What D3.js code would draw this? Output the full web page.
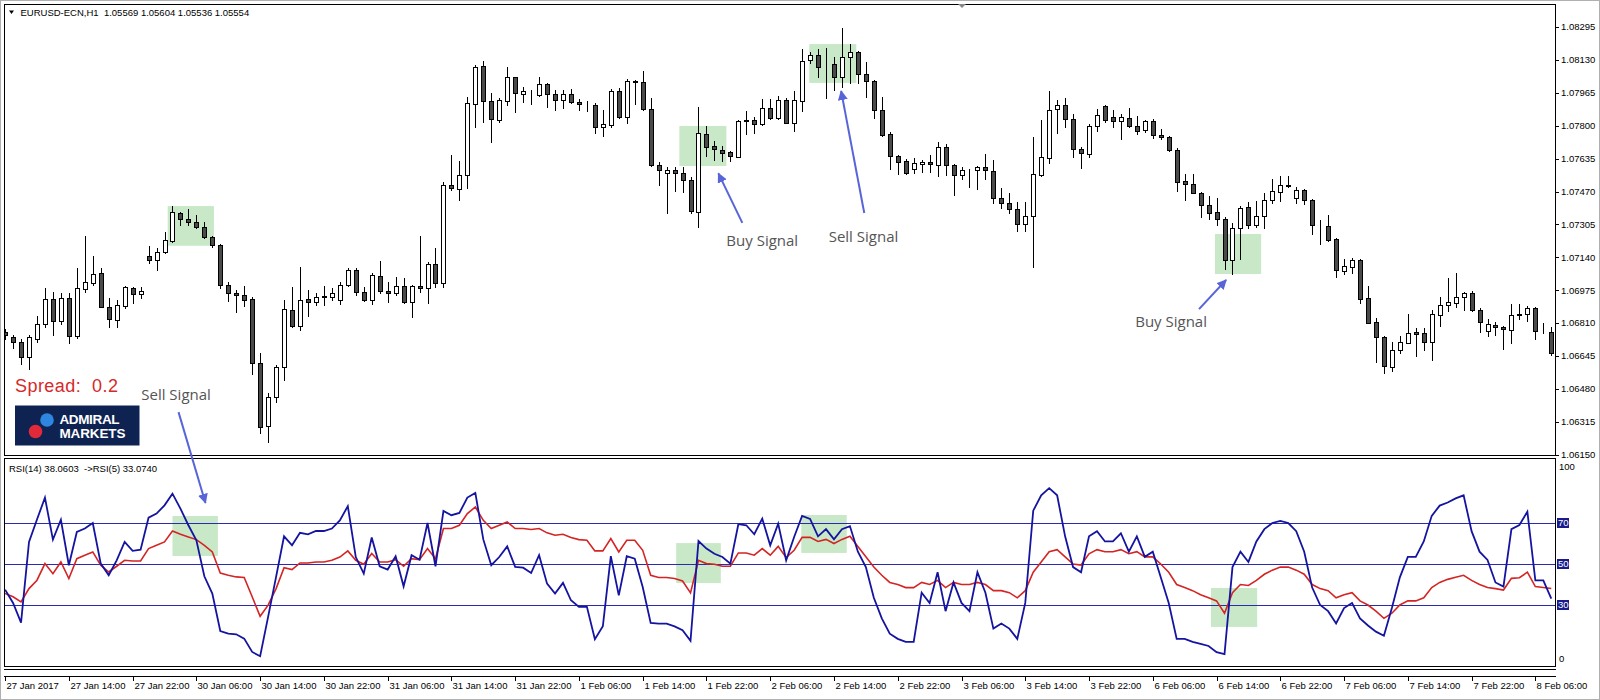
<!DOCTYPE html>
<html><head><meta charset="utf-8">
<script src="https://cdn.jsdelivr.net/npm/d3@7"></script>
<style>body{margin:0;background:#fff;} svg{display:block;}</style>
</head><body><svg id="c" width="1600" height="700"></svg>
<script>
// ---------- DATA ----------
const opens = [
1.06765,1.06741,1.06713,1.06641,1.06728,1.06805,1.06929,1.06822,1.06934,1.06745,
1.06979,1.07012,1.07063,1.06892,1.06825,1.06895,1.06984,1.06955,1.07146,1.07126,
1.07168,1.07223,1.07360,1.07332,1.07319,1.07293,1.07240,1.07201,1.07001,1.06962,
1.06950,1.06929,1.06611,1.06293,1.06440,1.06591,1.06875,1.06795,1.06929,1.06917,
1.06942,1.06942,1.06925,1.07001,1.07076,1.06967,1.06925,1.07046,1.06971,1.06959,
1.06996,1.06917,1.06996,1.06984,1.07106,1.07009,1.07503,1.07481,1.07553,1.07909,
1.08100,1.07926,1.07829,1.07926,1.08043,1.07959,1.07959,1.07954,1.08010,1.07959,
1.07929,1.07959,1.07921,1.07909,1.07904,1.07792,1.07804,1.07976,1.07842,1.08026,
1.08018,1.07882,1.07603,1.07561,1.07578,1.07565,1.07528,1.07369,1.07759,1.07698,
1.07678,1.07668,1.07645,1.07829,1.07829,1.07809,1.07887,1.07837,1.07929,1.07816,
1.07926,1.08130,1.08155,1.08105,1.08110,1.08043,1.08143,1.08172,1.08060,1.08026,
1.07879,1.07759,1.07648,1.07625,1.07581,1.07608,1.07620,1.07603,1.07695,1.07603,
1.07553,1.07578,1.07578,1.07591,1.07575,1.07436,1.07414,1.07381,1.07307,1.07347,
1.07553,1.07637,1.07882,1.07904,1.07832,1.07682,1.07658,1.07799,1.07899,1.07846,
1.07826,1.07837,1.07799,1.07779,1.07826,1.07754,1.07745,1.07678,1.07524,1.07508,
1.07464,1.07402,1.07369,1.07330,1.07126,1.07285,1.07390,1.07302,1.07347,1.07427,
1.07469,1.07503,1.07436,1.07477,1.07427,1.07302,1.07297,1.07230,1.07073,1.07093,
1.07126,1.06934,1.06817,1.06741,1.06591,1.06674,1.06711,1.06766,1.06758,1.06716,
1.06850,1.06900,1.06912,1.06942,1.06962,1.06878,1.06771,1.06800,1.06788,1.06775,
1.06850,1.06858,1.06888,1.06766,1.06765];
const highs = [
1.06778,1.06750,1.06728,1.06750,1.06845,1.06984,1.06967,1.06962,1.06959,1.07084,
1.07247,1.07146,1.07084,1.06934,1.06925,1.06996,1.06989,1.06989,1.07196,1.07185,
1.07268,1.07397,1.07369,1.07380,1.07352,1.07319,1.07247,1.07206,1.07017,1.06976,
1.06996,1.06939,1.06658,1.06457,1.06599,1.06925,1.06989,1.07093,1.06976,1.06959,
1.06996,1.06984,1.07017,1.07084,1.07084,1.06992,1.07059,1.07123,1.07017,1.07042,
1.07034,1.07001,1.07247,1.07118,1.07185,1.07519,1.07653,1.07625,1.07946,1.08105,
1.08127,1.07966,1.07938,1.08097,1.08046,1.07996,1.07979,1.08043,1.08013,1.07979,
1.07979,1.07983,1.07933,1.07926,1.07916,1.07879,1.07983,1.07988,1.08033,1.08030,
1.08077,1.07938,1.07620,1.07591,1.07595,1.07595,1.07541,1.07896,1.07799,1.07725,
1.07698,1.07675,1.07829,1.07876,1.07842,1.07933,1.07933,1.07949,1.07938,1.07976,
1.08184,1.08172,1.08184,1.08189,1.08147,1.08289,1.08210,1.08177,1.08122,1.08030,
1.07943,1.07770,1.07653,1.07632,1.07637,1.07628,1.07653,1.07720,1.07708,1.07608,
1.07595,1.07581,1.07598,1.07658,1.07628,1.07486,1.07461,1.07419,1.07419,1.07745,
1.07829,1.07976,1.07929,1.07938,1.07859,1.07692,1.07809,1.07882,1.07904,1.07879,
1.07859,1.07888,1.07849,1.07829,1.07832,1.07782,1.07749,1.07687,1.07558,1.07558,
1.07469,1.07447,1.07436,1.07340,1.07313,1.07397,1.07419,1.07424,1.07461,1.07531,
1.07548,1.07548,1.07491,1.07481,1.07431,1.07327,1.07352,1.07235,1.07129,1.07134,
1.07129,1.06996,1.06833,1.06745,1.06716,1.06745,1.06855,1.06783,1.06783,1.06878,
1.06939,1.07034,1.07062,1.06967,1.06972,1.06884,1.06828,1.06817,1.06795,1.06905,
1.06905,1.06895,1.06892,1.06812,1.06790];
const lows = [
1.06728,1.06683,1.06607,1.06582,1.06716,1.06792,1.06750,1.06805,1.06708,1.06733,
1.06967,1.07001,1.06889,1.06792,1.06788,1.06884,1.06912,1.06934,1.07113,1.07076,
1.07163,1.07218,1.07302,1.07302,1.07285,1.07235,1.07193,1.06984,1.06922,1.06867,
1.06895,1.06554,1.06256,1.06213,1.06415,1.06524,1.06792,1.06775,1.06845,1.06900,
1.06900,1.06925,1.06905,1.06996,1.06950,1.06922,1.06905,1.06959,1.06917,1.06950,
1.06909,1.06839,1.06967,1.06909,1.06992,1.06992,1.07478,1.07427,1.07486,1.07792,
1.07820,1.07720,1.07820,1.07904,1.07871,1.07921,1.07909,1.07949,1.07893,1.07879,
1.07887,1.07913,1.07879,1.07876,1.07765,1.07749,1.07792,1.07839,1.07812,1.07909,
1.07879,1.07598,1.07503,1.07360,1.07474,1.07469,1.07360,1.07290,1.07648,1.07628,
1.07625,1.07625,1.07642,1.07759,1.07762,1.07804,1.07832,1.07832,1.07812,1.07775,
1.07876,1.08113,1.08046,1.07938,1.07980,1.07996,1.08013,1.08013,1.07943,1.07837,
1.07749,1.07581,1.07558,1.07558,1.07565,1.07570,1.07570,1.07548,1.07553,1.07453,
1.07531,1.07491,1.07481,1.07531,1.07414,1.07386,1.07361,1.07274,1.07274,1.07093,
1.07548,1.07615,1.07765,1.07792,1.07642,1.07586,1.07645,1.07775,1.07821,1.07795,
1.07732,1.07792,1.07759,1.07770,1.07737,1.07732,1.07675,1.07474,1.07427,1.07461,
1.07340,1.07330,1.07302,1.07079,1.07056,1.07129,1.07285,1.07290,1.07285,1.07414,
1.07424,1.07494,1.07411,1.07407,1.07257,1.07206,1.07223,1.07042,1.07056,1.07062,
1.06909,1.06808,1.06616,1.06557,1.06571,1.06661,1.06708,1.06644,1.06674,1.06624,
1.06795,1.06872,1.06892,1.06878,1.06872,1.06766,1.06745,1.06750,1.06678,1.06708,
1.06828,1.06822,1.06728,1.06758,1.06650];
const closes = [
1.06748,1.06716,1.06641,1.06738,1.06805,1.06929,1.06822,1.06934,1.06745,1.06984,
1.07017,1.07056,1.06892,1.06828,1.06900,1.06989,1.06955,1.06971,1.07126,1.07168,
1.07227,1.07369,1.07330,1.07315,1.07290,1.07243,1.07201,1.07001,1.06962,1.06952,
1.06925,1.06611,1.06290,1.06440,1.06591,1.06879,1.06795,1.06925,1.06917,1.06942,
1.06944,1.06962,1.07001,1.07076,1.06967,1.06925,1.07051,1.06972,1.06962,1.06996,
1.06917,1.06996,1.06987,1.07106,1.07009,1.07503,1.07486,1.07553,1.07913,1.08097,
1.07926,1.07832,1.07929,1.08043,1.07963,1.07974,1.07961,1.08010,1.07959,1.07929,
1.07959,1.07918,1.07909,1.07907,1.07792,1.07809,1.07976,1.07842,1.08026,1.08018,
1.07882,1.07603,1.07578,1.07578,1.07561,1.07528,1.07374,1.07762,1.07695,1.07682,
1.07665,1.07648,1.07826,1.07822,1.07809,1.07887,1.07837,1.07929,1.07816,1.07929,
1.08127,1.08155,1.08097,1.08103,1.08043,1.08143,1.08172,1.08060,1.08026,1.07879,
1.07754,1.07648,1.07620,1.07565,1.07615,1.07620,1.07608,1.07695,1.07603,1.07553,
1.07578,1.07576,1.07591,1.07578,1.07436,1.07411,1.07381,1.07307,1.07347,1.07558,
1.07645,1.07879,1.07904,1.07832,1.07682,1.07662,1.07799,1.07854,1.07829,1.07826,
1.07846,1.07799,1.07775,1.07826,1.07754,1.07742,1.07678,1.07519,1.07508,1.07464,
1.07402,1.07364,1.07330,1.07126,1.07285,1.07385,1.07302,1.07347,1.07427,1.07474,
1.07503,1.07498,1.07477,1.07427,1.07302,1.07300,1.07227,1.07076,1.07096,1.07126,
1.06929,1.06812,1.06741,1.06594,1.06674,1.06716,1.06761,1.06755,1.06716,1.06855,
1.06900,1.06917,1.06942,1.06962,1.06878,1.06817,1.06805,1.06788,1.06778,1.06850,
1.06858,1.06888,1.06771,1.06765,1.06658];
// RSI(5) - blue
const rsi5 = [
37.5,31,21.4,60.8,71.7,82.4,61.9,71.6,49.4,65.6,
67.3,70,50.2,44.5,51.8,60.8,56.4,57,72.6,74.6,
78.6,84.3,77,68.9,61.6,44,35.6,17.3,16,15.7,
13.6,7.1,5,24.2,43.7,63.5,59.1,65.2,64.5,66.1,
66.1,67.3,71.3,78.2,53.4,45.3,62.9,48.9,47.3,53.8,
39.1,54.3,52.1,70,48.9,75.9,73.8,74.9,82.4,84.7,
62,49.4,53.4,58.6,48.6,48.2,45.6,54.3,40.4,35.6,
40.8,32.3,29.1,29.1,13.3,19.6,53.8,34.7,53.8,52.6,
38.8,21.3,20.9,20.9,19.6,17.7,12.5,61.2,57.5,55,
53.4,50.2,69.4,68.9,64.5,72.1,59.1,69.7,51.8,63.2,
73.5,72,63.5,67,62,67,68.5,56,48.5,33.5,
23.5,16,13.5,12,12,36,31,46,27,41,
31,27,46,36,18.5,21,18.5,13.5,31,76,
83.5,87,83.5,63.5,48.5,46,63.5,66,61,61,
65,56,63.5,53.5,56,43.5,31,13.5,13.5,12,
11,10,7,6,48.5,56,51,61,67,70,
71,70,66,56,38.5,30,27,21,28.5,31,
23.5,20,17,15,28.5,43.5,53.5,53.5,61,73.5,
78.5,80,82,83.5,66,56,52,41,39,67,
69,75.5,42,42,33.07];
// RSI(14) - red
const rsi14 = [
35.6,34,31.5,38,42.1,50.2,45.3,51,42.9,52.6,
54.3,55.9,49.4,46.1,48.9,51.8,51.5,51.5,57.5,59.1,
60.8,66.1,64.5,63.2,61.9,59.1,55.9,45.6,44.5,43.7,
43.4,34,24.5,29.9,38,48.2,47.3,50.5,50.5,51,
51,51.8,53.4,56.4,51.8,49.9,55.1,51,51,52.1,
48.9,52.6,52.1,57.5,52.6,67.3,67.3,68.9,74.6,77.8,
71.3,67.3,68.9,70.5,67.3,67.3,66.8,67.3,65.2,64,
64.5,62.9,61.9,61.6,56.4,56.4,62.4,55.9,61.6,61.6,
56.7,44.5,43.4,43.4,42.9,41.7,35.9,51.8,50.2,49.9,
48.9,48.9,55.4,55.4,54.3,57.5,54.3,58.6,53.1,56.7,
63,63,61,62,60,62,63.5,58.5,53.5,48.5,
44.5,41,40,38.5,38.5,41,40,42,38.5,41,
40,40,41,40,37,37,36,33.5,37,46,
51,56,57,53.5,50,49.5,55,57,56,56,
57,55,56,53.5,53.5,50,46,40,38.5,37,
35,33.5,32,26,36,40,39.5,42,45,47,
48.5,48.5,47,45,40,38,37,33.5,35,36,
32,30,27,23.5,26,30,32,32,33.5,38.5,
41,42.5,43.5,44.5,42,40,38.5,38,37.3,43,
43.3,46,39,38.5,38.06];
const priceTicks = [1.08295,1.08130,1.07965,1.07800,1.07635,1.07470,1.07305,1.07140,1.06975,1.06810,1.06645,1.06480,1.06315,1.06150];
const rsiLevels = [70,50,30];
const timeLabels = ["27 Jan 2017","27 Jan 14:00","27 Jan 22:00","30 Jan 06:00","30 Jan 14:00","30 Jan 22:00","31 Jan 06:00","31 Jan 14:00","31 Jan 22:00","1 Feb 06:00","1 Feb 14:00","1 Feb 22:00","2 Feb 06:00","2 Feb 14:00","2 Feb 22:00","3 Feb 06:00","3 Feb 14:00","3 Feb 22:00","6 Feb 06:00","6 Feb 14:00","6 Feb 22:00","7 Feb 06:00","7 Feb 14:00","7 Feb 22:00","8 Feb 06:00"];
const labelEvery = 8;
// highlight boxes: [fromIndex, toIndex, top, bottom]
const priceBoxes = [[20.4,26.2,1.07397,1.07198],[84.6,90.5,1.07799,1.07598],[100.9,106.8,1.08210,1.08015],[151.8,157.6,1.07257,1.07056]];
const rsiBoxes = [[21.0,26.7,73.4,53.9],[84.2,89.8,60.2,40.7],[99.9,105.6,73.9,55.4],[151.3,157.1,38.3,19.3]];
// signal annotations: text anchor (index, price), arrow from -> to
const signals = [
 {text:"Buy Signal", ti:95.0, tp:1.07223, a:[92.5,1.07313], b:[89.5,1.07561]},
 {text:"Sell Signal", ti:107.7, tp:1.07244, a:[107.8,1.07362], b:[104.9,1.07974]},
 {text:"Buy Signal", ti:146.3, tp:1.06815, a:[149.8,1.06880], b:[153.2,1.07026]}
];
const crossSignal = {text:"Sell Signal", ti:21.45, tp:1.06450, a:[21.76,1.06363], b:[25.14,79.8]};

// ---------- CHART ----------
const svg = d3.select('#c');
const N = opens.length;
const x = d3.scaleLinear().domain([0, N-1]).range([5.1, 5.1 + 7.97*(N-1)]);
const yP = d3.scaleLinear().domain([1.06148, 1.08411]).range([455, 4]);
const yR = d3.scaleLinear().domain([0, 100]).range([666.5, 461.5]);
const FONT = "'Liberation Sans', Arial, sans-serif";

svg.append('rect').attr('width',1600).attr('height',700).attr('fill','#ffffff');
svg.append('rect').attr('x',0.5).attr('y',0.5).attr('width',1599).attr('height',699).attr('fill','none').attr('stroke','#b0b0b0');

const defs = svg.append('defs');
defs.append('clipPath').attr('id','clipMain').append('rect').attr('x',5).attr('y',5).attr('width',1550).attr('height',450);
defs.append('clipPath').attr('id','clipRsi').append('rect').attr('x',5).attr('y',459).attr('width',1550).attr('height',207);
defs.append('marker').attr('id','ah').attr('viewBox','0 0 10 10').attr('refX',9).attr('refY',5)
  .attr('markerWidth',5).attr('markerHeight',5).attr('orient','auto')
  .append('path').attr('d','M0,0L10,5L0,10z').attr('fill','#5865d8');

// main panel
const gMain = svg.append('g').attr('clip-path','url(#clipMain)');
gMain.selectAll('rect.box').data(priceBoxes).join('rect').attr('class','box')
  .attr('x',d=>x(d[0])).attr('width',d=>x(d[1])-x(d[0]))
  .attr('y',d=>yP(d[2])).attr('height',d=>yP(d[3])-yP(d[2]))
  .attr('fill','#c9e8c7');

const idx = d3.range(N);
const cg = gMain.append('g');
cg.selectAll('line.wick').data(idx).join('line').attr('class','wick')
  .attr('x1',i=>Math.round(x(i))+0.5).attr('x2',i=>Math.round(x(i))+0.5)
  .attr('y1',i=>Math.round(yP(highs[i]))).attr('y2',i=>Math.round(yP(lows[i]))+1)
  .attr('stroke','#000').attr('stroke-width',1);
cg.selectAll('rect.body').data(idx).join('rect').attr('class','body')
  .attr('x',i=>Math.round(x(i))-1.5).attr('width',4)
  .attr('y',i=>Math.round(yP(Math.max(opens[i],closes[i])))+0.5)
  .attr('height',i=>Math.max(0, Math.round(yP(Math.min(opens[i],closes[i]))) - Math.round(yP(Math.max(opens[i],closes[i])))))
  .attr('fill',i=>closes[i]>=opens[i]?'#ffffff':'#4a4a4a')
  .attr('stroke','#000').attr('stroke-width',1);

// main frame
svg.append('rect').attr('x',4.5).attr('y',4.5).attr('width',1551).attr('height',451).attr('fill','none').attr('stroke','#000');

// price axis
const pa = svg.append('g');
priceTicks.forEach(p=>{
  pa.append('line').attr('x1',1556).attr('x2',1559).attr('y1',Math.round(yP(p))+0.5).attr('y2',Math.round(yP(p))+0.5).attr('stroke','#000');
  pa.append('text').attr('x',1561).attr('y',yP(p)).attr('dy','0.35em').attr('font-family',FONT).attr('font-size','9.5px').attr('fill','#000').text(p.toFixed(5));
});

// header
svg.append('path').attr('d','M9,10.5L14,10.5L11.5,14z').attr('fill','#000');
svg.append('text').attr('x',20.5).attr('y',13).attr('dy','0.35em').attr('font-family',FONT).attr('font-size','9.5px').attr('fill','#000')
  .attr('xml:space','preserve').text('EURUSD-ECN,H1  1.05569 1.05604 1.05536 1.05554');
svg.append('path').attr('d','M958,4L966,4L962,8z').attr('fill','#888');

// spread + logo
svg.append('text').attr('x',15).attr('y',392).attr('font-family',FONT).attr('font-size','18px').attr('fill','#d42a2a')
  .attr('xml:space','preserve').attr('textLength',103).text('Spread:  0.2');
svg.append('rect').attr('x',15).attr('y',405.5).attr('width',124.5).attr('height',40).attr('fill','#0e2352');
svg.append('circle').attr('cx',47).attr('cy',420).attr('r',6.8).attr('fill','#2f86e0');
svg.append('circle').attr('cx',35.5).attr('cy',431.5).attr('r',6.8).attr('fill','#e2293a');
svg.append('text').attr('x',59.5).attr('y',424).attr('font-family',FONT).attr('font-weight','bold').attr('font-size','13.5px').attr('fill','#fff').attr('textLength',60).text('ADMIRAL');
svg.append('text').attr('x',59.5).attr('y',438).attr('font-family',FONT).attr('font-weight','bold').attr('font-size','13.5px').attr('fill','#fff').attr('textLength',66).text('MARKETS');

// RSI panel
const gR = svg.append('g').attr('clip-path','url(#clipRsi)');
gR.selectAll('rect.box').data(rsiBoxes).join('rect').attr('class','box')
  .attr('x',d=>x(d[0])).attr('width',d=>x(d[1])-x(d[0]))
  .attr('y',d=>yR(d[2])).attr('height',d=>yR(d[3])-yR(d[2]))
  .attr('fill','#c9e8c7');
gR.selectAll('line.lvl').data(rsiLevels).join('line').attr('class','lvl')
  .attr('x1',5).attr('x2',1555).attr('y1',d=>Math.round(yR(d))+0.5).attr('y2',d=>Math.round(yR(d))+0.5)
  .attr('stroke','#2b2bb0').attr('stroke-width',1);
const line = d3.line().x((d,i)=>x(i)).y(d=>yR(d));
gR.append('path').datum(rsi14).attr('d',line).attr('fill','none').attr('stroke','#d42424').attr('stroke-width',1.6);
gR.append('path').datum(rsi5).attr('d',line).attr('fill','none').attr('stroke','#1414a0').attr('stroke-width',1.8);

svg.append('rect').attr('x',4.5).attr('y',458.5).attr('width',1551).attr('height',208).attr('fill','none').attr('stroke','#000');
svg.append('text').attr('x',9).attr('y',469).attr('dy','0.35em').attr('font-family',FONT).attr('font-size','9.5px').attr('fill','#000')
  .attr('xml:space','preserve').text('RSI(14) 38.0603  ->RSI(5) 33.0740');

// RSI axis labels
[100,0].forEach(v=>{
  svg.append('text').attr('x',1559).attr('y',v===100?467:659).attr('dy','0.35em').attr('font-family',FONT).attr('font-size','9.5px').attr('fill','#000').text(v);
});
rsiLevels.forEach(v=>{
  const yy = Math.round(yR(v));
  svg.append('rect').attr('x',1557).attr('y',yy-5).attr('width',12).attr('height',10).attr('fill','#1a1a8c');
  svg.append('text').attr('x',1558).attr('y',yy).attr('dy','0.35em').attr('font-family',FONT).attr('font-size','9.5px').attr('fill','#fff').text(v);
});

// time axis
svg.append('line').attr('x1',4).attr('x2',1556).attr('y1',669.5).attr('y2',669.5).attr('stroke','#000');
svg.append('line').attr('x1',4).attr('x2',1556).attr('y1',676.5).attr('y2',676.5).attr('stroke','#000');
const ta = svg.append('g');
timeLabels.forEach((t,k)=>{
  const xx = Math.round(x(k*labelEvery))+0.5;
  ta.append('line').attr('x1',xx).attr('x2',xx).attr('y1',677).attr('y2',681).attr('stroke','#000');
  ta.append('text').attr('x',xx+1).attr('y',686).attr('dy','0.35em').attr('font-family',FONT).attr('font-size','9.5px').attr('fill','#000').text(t);
});

// signals
const annFont = "'Open Sans', 'Noto Sans', sans-serif";
signals.forEach(s=>{
  svg.append('line').attr('x1',x(s.a[0])).attr('y1',yP(s.a[1])).attr('x2',x(s.b[0])).attr('y2',yP(s.b[1]))
    .attr('stroke','#5865d8').attr('stroke-width',2).attr('marker-end','url(#ah)');
  svg.append('text').attr('x',x(s.ti)).attr('y',yP(s.tp)).attr('dy','0.35em').attr('text-anchor','middle')
    .attr('font-family',annFont).attr('font-size','15px').attr('fill','#555').text(s.text);
});
svg.append('line').attr('x1',x(crossSignal.a[0])).attr('y1',yP(crossSignal.a[1])).attr('x2',x(crossSignal.b[0])).attr('y2',yR(crossSignal.b[1]))
  .attr('stroke','#5865d8').attr('stroke-width',2).attr('marker-end','url(#ah)');
svg.append('text').attr('x',x(crossSignal.ti)).attr('y',yP(crossSignal.tp)).attr('dy','0.35em').attr('text-anchor','middle')
  .attr('font-family',annFont).attr('font-size','15px').attr('fill','#555').text(crossSignal.text);
</script></body></html>
